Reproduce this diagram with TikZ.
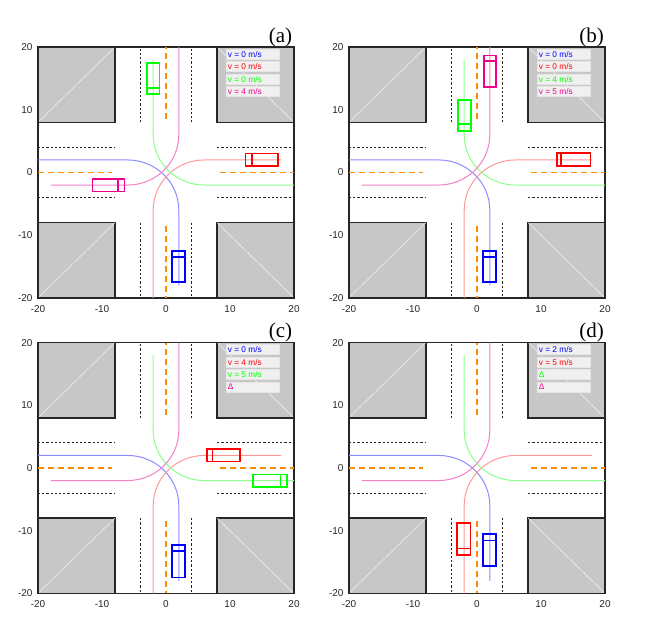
\documentclass[tikz,border=0pt]{standalone}
\usepackage{fontspec}
\setmainfont{Liberation Sans}
\newfontfamily\serifp{Liberation Serif}
\definecolor{blk}{gray}{0.78}
\definecolor{lorange}{RGB}{255,140,0}
\tikzset{
 frame/.style={draw=black!85,line width=1.5pt},
 block/.style={fill=blk,draw=black!85,line width=1.5pt},
 lanemark/.style={black!85,dash pattern=on 2.2pt off 2pt,line width=1pt},
 centermark/.style={lorange,dash pattern=on 6pt off 4pt,line width=1.8pt},
 route/.style={line width=1pt},
 carbox/.style={line width=1.5pt},
 legbox/.style={fill=gray!12,draw=gray!20,line width=0.8pt,minimum width=53pt,minimum height=10pt,inner sep=0pt,anchor=west},
 legtext/.style={font=\fontsize{8.3}{9}\selectfont,anchor=west,inner sep=1.5pt},
 ticklab/.style={font=\fontsize{10}{11}\selectfont,text=black!85},
 panlab/.style={font=\serifp\fontsize{21}{22}\selectfont}
}
\newcommand\panelbase[3]{%
 \begin{scope}[shift={(#1,#2)},xscale=6.4,yscale=-6.27]
  \fill[white] (-20,-20) rectangle (20,20);
  \draw[block] (-20,8) rectangle (-8,20);
  \draw[block] (8,8) rectangle (20,20);
  \draw[block] (-20,-20) rectangle (-8,-8);
  \draw[block] (8,-20) rectangle (20,-8);
  \draw[white!80!blk,line width=0.5pt] (-20,8)--(-8,20) (8,20)--(20,8) (-20,-20)--(-8,-8) (8,-8)--(20,-20);
  \draw[frame] (-20,-20) rectangle (20,20);
  \draw[lanemark] (-4,8)--(-4,20) (4,8)--(4,20) (-4,-8)--(-4,-20) (4,-8)--(4,-20)
    (-20,4)--(-8,4) (-20,-4)--(-8,-4) (8,4)--(20,4) (8,-4)--(20,-4);
  \draw[centermark] (0,8.5)--(0,20) (0,-8.5)--(0,-20) (-20,0)--(-8.5,0) (8.5,0)--(20,0);
  \draw[route,blue!45] (-20,2)--(-6,2) arc (90:0:8) -- (2,-18);
  \draw[route,red!40] (18,2)--(6,2) arc (90:180:8) -- (-2,-20);
  \draw[route,green!45] (-2,18)--(-2,6) arc (180:270:8) -- (20,-2);
  \draw[route,magenta!50] (2,20)--(2,6) arc (0:-90:8) -- (-18,-2);
  \foreach \v/\l in {-20/-20,-10/-10,0/0,10/10,20/20}{
   \node[ticklab,anchor=north] at (\v,-20.6) {\l};
   \node[ticklab,anchor=east] at (-20.3,\v) {\l};}
  \node[panlab] at (17.9,21.6) {#3};
 \end{scope}}
\newcommand\legrow[3]{\node[legbox] at (9.4,#1) {};\node[legtext,text=#2] at (9.4,#1) {#3};}
\newcommand\carV[6]{\draw[carbox,#1] (#2,#3) rectangle (#4,#5) (#2,#6)--(#4,#6);}
\newcommand\carH[6]{\draw[carbox,#1] (#2,#3) rectangle (#4,#5) (#6,#3)--(#6,#5);}
\begin{document}
\begin{tikzpicture}[x=1pt,y=-1pt]
\useasboundingbox (0,0) rectangle (651,634);
% (a)
\panelbase{166}{172.5}{(a)}
\begin{scope}[shift={(166,172.5)},xscale=6.4,yscale=-6.27]
 \carV{green}{-3}{12.5}{-1}{17.5}{13.5}
 \carH{magenta}{-11.5}{-3}{-6.5}{-1}{-7.5}
 \carV{blue}{0.9}{-12.5}{3}{-17.5}{-13.5}
 \carH{red}{12.4}{1}{17.5}{3}{13.4}
 \legrow{18.85}{blue}{v = 0 m/s}
 \legrow{16.9}{red}{v = 0 m/s}
 \legrow{14.9}{green}{v = 0 m/s}
 \legrow{12.9}{magenta}{v = 4 m/s}
\end{scope}
% (b)
\panelbase{477}{172.5}{(b)}
\begin{scope}[shift={(477,172.5)},xscale=6.4,yscale=-6.27]
 \carV{magenta}{1.1}{13.6}{3}{18.7}{17.8}
 \carV{green}{-3}{6.6}{-0.9}{11.6}{7.7}
 \carH{red}{12.5}{1}{17.7}{3.1}{13.1}
 \carV{blue}{0.9}{-12.5}{3}{-17.5}{-13.5}
 \legrow{18.85}{blue}{v = 0 m/s}
 \legrow{16.9}{red}{v = 0 m/s}
 \legrow{14.9}{green}{v = 4 m/s}
 \legrow{12.9}{magenta}{v = 5 m/s}
\end{scope}
% (c)
\panelbase{166}{468}{(c)}
\begin{scope}[shift={(166,468)},xscale=6.4,yscale=-6.27]
 \carH{red}{6.4}{1}{11.6}{3}{7.3}
 \carH{green}{13.6}{-3}{18.9}{-1}{17.9}
 \carV{blue}{0.9}{-12.3}{3}{-17.5}{-13.2}
 \legrow{18.85}{blue}{v = 0 m/s}
 \legrow{16.9}{red}{v = 4 m/s}
 \legrow{14.9}{green}{v = 5 m/s}
 \legrow{12.9}{magenta}{Δ}
\end{scope}
% (d)
\panelbase{477}{468}{(d)}
\begin{scope}[shift={(477,468)},xscale=6.4,yscale=-6.27]
 \carV{red}{-3.1}{-8.8}{-1}{-13.9}{-12.8}
 \carV{blue}{0.94}{-10.5}{2.96}{-15.6}{-11.6}
 \legrow{18.85}{blue}{v = 2 m/s}
 \legrow{16.9}{red}{v = 5 m/s}
 \legrow{14.9}{green}{Δ}
 \legrow{12.9}{magenta}{Δ}
\end{scope}
\end{tikzpicture}
\end{document}
